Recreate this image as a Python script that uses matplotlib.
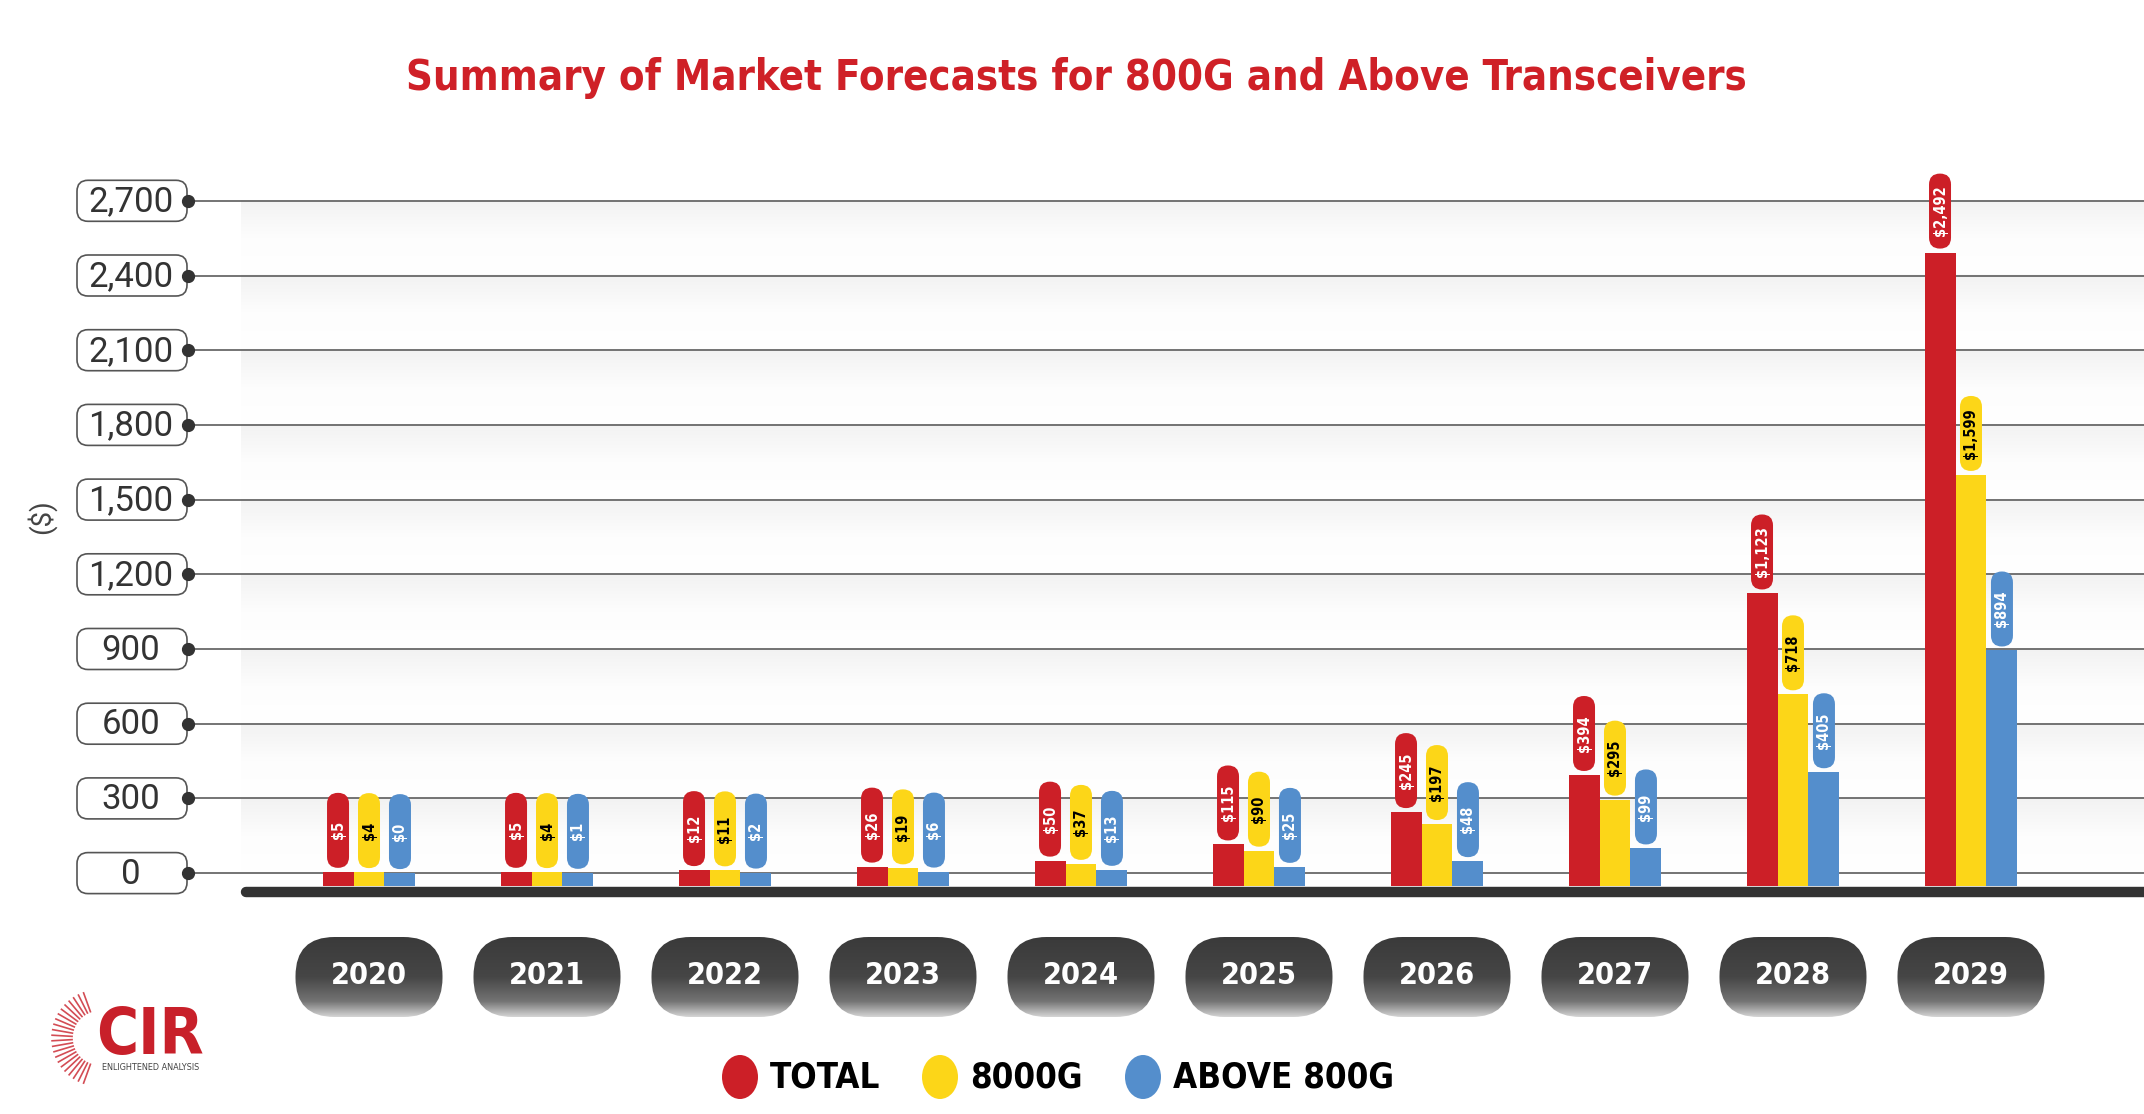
import numpy as np
import matplotlib
matplotlib.use("Agg")
import matplotlib.pyplot as plt
from matplotlib.patches import FancyBboxPatch, Ellipse
from matplotlib.colors import LinearSegmentedColormap

years = ["2020", "2021", "2022", "2023", "2024", "2025", "2026", "2027", "2028", "2029"]
total = [5, 5, 12, 26, 50, 115, 245, 394, 1123, 2492]
g800 = [4, 4, 11, 19, 37, 90, 197, 295, 718, 1599]
above = [0, 1, 2, 6, 13, 25, 48, 99, 405, 894]
series_names = ["TOTAL", "8000G", "ABOVE 800G"]
yticks = [0, 300, 600, 900, 1200, 1500, 1800, 2100, 2400, 2700]

colors = ["#cc1f27", "#fcd618", "#548ecc"]
text_colors = ["white", "black", "white"]
cond = dict(family="DejaVu Sans", fontstretch="condensed", fontweight="bold")

W, H = 2144, 1114
fig = plt.figure(figsize=(W / 100, H / 100), dpi=100)
ax = fig.add_axes([187 / W, 1 - 898 / H, 1 - 187 / W, (898 - 151) / H])
xlim = (-1.0225, 9.972)
ylim = (-100, 2900)

# faint gradient bands between gridlines
yy = np.arange(0, 2700)
band = ((yy % 300) / 300.0).reshape(-1, 1)
bg_cmap = LinearSegmentedColormap.from_list("bg", ["#ffffff", "#fdfdfd", "#f2f2f2"])
ax.imshow(band, cmap=bg_cmap, origin="lower", aspect="auto",
          extent=[-0.72, xlim[1], 0, 2700], zorder=0)

ax.hlines(yticks, xlim[0], xlim[1], colors="#5c5c5c", lw=1.2, zorder=1)

# bars
x = np.arange(len(years))
bw = 0.174
drop = 52
series = [total, g800, above]
for k, vals in enumerate(series):
    ax.bar(x + (k - 1) * bw, np.array(vals) + drop, bottom=-drop, width=bw,
           color=colors[k], zorder=3)

ax.plot([-0.69, xlim[1]], [-76, -76], color="#333333", lw=7.5,
        solid_capstyle="round", zorder=2)

ax.set_xlim(xlim)
ax.set_ylim(ylim)
ax.axis("off")

# pixel overlay for decorations
deco = fig.add_axes([0, 0, 1, 1])


def to_px(xd, yd):
    p = ax.transData.transform((xd, yd))
    return p[0], H - p[1]


# y tick boxes
for v in yticks:
    _, py = to_px(0, v)
    deco.add_patch(FancyBboxPatch((77, py - 20.5), 110, 41,
                                  boxstyle="round,pad=0,rounding_size=11",
                                  fc="white", ec="#555555", lw=1.2))
    deco.text(131, py + 1, f"{v:,}", ha="center", va="center", fontsize=25,
              color="#333333", family="Roboto")
    deco.plot(188, py, "o", ms=8.5, color="#333333")

deco.text(41, 517, "($)", rotation=90, ha="center", va="center", fontsize=20,
          color="#444444", family="Roboto")

# value pills
for k, vals in enumerate(series):
    for i, v in enumerate(vals):
        cx, top = to_px(i + (k - 1) * bw, v)
        deco.add_patch(FancyBboxPatch((cx - 11, top - 79), 22, 75,
                                      boxstyle="round,pad=0,rounding_size=11",
                                      fc=colors[k], ec="none"))
        deco.text(cx, top - 41.5, f"${v:,}", rotation=90, ha="center",
                  va="center", fontsize=10.5, color=text_colors[k],
                  fontweight="bold", family="DejaVu Sans", fontstretch="condensed")

# year pills
pill_cmap = LinearSegmentedColormap.from_list(
    "pill", [(0, "#3a3a3a"), (0.5, "#464646"), (0.8, "#747474"), (1, "#d8d8d8")])
grad = np.linspace(0, 1, 100).reshape(-1, 1)
for i, yr in enumerate(years):
    cx, _ = to_px(i, 0)
    patch = FancyBboxPatch((cx - 73.5, 937), 147, 80,
                           boxstyle="round,pad=0,rounding_size=39",
                           fc="none", ec="none")
    deco.add_patch(patch)
    im = deco.imshow(grad, cmap=pill_cmap, aspect="auto",
                     extent=[cx - 74, cx + 74, 1018, 936])
    im.set_clip_path(patch)
    deco.text(cx, 976, yr, ha="center", va="center", fontsize=22,
              color="white", **cond)

# legend
leg_x = [740, 940, 1143]
for k, name in enumerate(series_names):
    deco.add_patch(Ellipse((leg_x[k], 1077), 36, 44, fc=colors[k], ec="none"))
    deco.text(leg_x[k] + 30, 1077, name, ha="left", va="center", fontsize=25,
              color="black", **cond)

# title
deco.text(1076, 78, "Summary of Market Forecasts for 800G and Above Transceivers",
          ha="center", va="center", fontsize=30, color="#cf2027", **cond)

# logo
for a in np.linspace(110, 250, 22):
    r = np.deg2rad(a)
    deco.plot([100 + 28 * np.cos(r), 100 + 48 * np.cos(r)],
              [1038 - 28 * np.sin(r), 1038 - 48 * np.sin(r)],
              color="#c8202a", lw=1.2, alpha=0.8)
deco.text(150, 1036, "CIR", ha="center", va="center", fontsize=46,
          color="#c8202a", **cond)
deco.text(151, 1068, "ENLIGHTENED ANALYSIS", ha="center", va="center",
          fontsize=6.5, color="#444444", fontstretch="condensed")

deco.set_xlim(0, W)
deco.set_ylim(H, 0)
deco.axis("off")

fig.savefig("out.png", dpi=100)
